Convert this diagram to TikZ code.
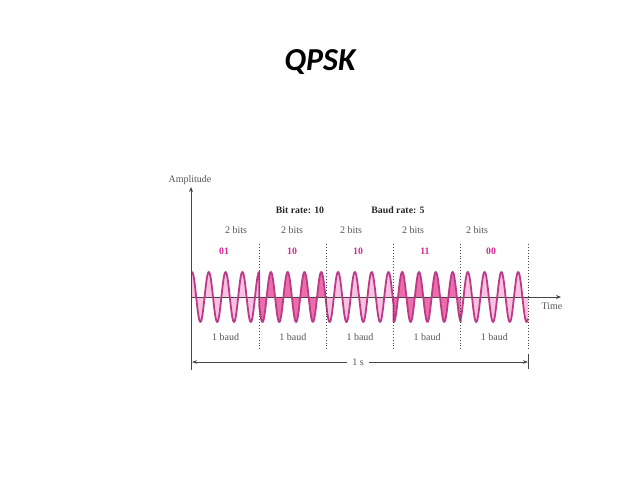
\documentclass[tikz,border=0pt]{standalone}
\usepackage{fontspec}
\setmainfont{Liberation Serif}
\newfontfamily\titlefont{Carlito}
\usetikzlibrary{arrows.meta}
\definecolor{wavec}{RGB}{188,58,135}
\definecolor{lightp}{RGB}{248,194,224}
\definecolor{darkp}{RGB}{236,108,172}
\definecolor{bitc}{RGB}{215,40,150}
\definecolor{axc}{RGB}{70,70,70}
\definecolor{txtc}{RGB}{85,85,85}
\begin{document}
\begin{tikzpicture}[x=1pt,y=-1pt,
  lbl/.style={font=\fontsize{10}{11}\selectfont, text=txtc, inner sep=0pt},
  boldlbl/.style={font=\bfseries\fontsize{9.8}{11}\selectfont, text=black!85, inner sep=0pt},
  bitlbl/.style={font=\bfseries\fontsize{9.8}{11}\selectfont, text=bitc, inner sep=0pt},
  axis/.style={draw=axc, line width=0.9pt},
  divider/.style={draw=axc, dotted, line width=0.9pt},
  wavestroke/.style={draw=wavec, line width=1.8pt, line join=round}]
\useasboundingbox (0,0) rectangle (638,478);
\node[font=\titlefont\bfseries\itshape\fontsize{32}{36}\selectfont] (title) at (320,62) {QPSK};

% axes
\coordinate (ytop) at (191,187);
\coordinate (ybot) at (191,370);
\coordinate (xorg) at (191,297);
\coordinate (xend) at (561,297);
\node[lbl] (amp) at (190,180) {Amplitude};
\node[lbl] (time) at (552,306) {Time};

% rates
\node[boldlbl] (bitrate) at (300,210) {Bit rate: 10};
\node[boldlbl] (baudrate) at (398,210) {Baud rate: 5};

% 2 bits labels
\foreach \n/\x in {a/236,b/292,c/351,d/413,e/477}
  \node[lbl] (bits\n) at (\x,230) {2 bits};

% bit patterns
\foreach \n/\x/\t in {a/224/01,b/292/10,c/358/10,d/425/11,e/491/00}
  \node[bitlbl] (pat\n) at (\x,251) {\t};

% wave fills
\foreach \k/\ph/\fc in {0/0/lightp,1/110/darkp,2/110/lightp,3/175/darkp,4/210/lightp}{
  \fill[\fc] ({192+67.2*\k},297) -- plot[domain=0:67.2,samples=160] ({192+67.2*\k+\x},{297-25*cos(21.428571*\x+\ph)}) -- ({192+67.2*(\k+1)},297) -- cycle;
}

% axes drawn over fills
\draw[axis,-{Stealth[length=5pt,width=4pt]}] (ybot) -- (ytop);
\draw[axis,-{Stealth[length=5pt,width=4pt]}] (xorg) -- (xend);

% wave curve
\draw[wavestroke] (192,272)
  \foreach \k/\ph in {0/0,1/110,2/110,3/175,4/210}{
    -- plot[domain=0:67.2,samples=160] ({192+67.2*\k+\x},{297-25*cos(21.428571*\x+\ph)})
  };

% dividers
\foreach \n/\x in {a/259.2,b/326.4,c/393.6,d/460.8,e/528}{
  \coordinate (dt\n) at (\x,244);
  \coordinate (db\n) at (\x,349);
  \draw[divider] (dt\n) -- (db\n);
}

% 1 baud labels
\foreach \n/\x in {a/225.6,b/292.8,c/360,d/427.2,e/494.4}
  \node[lbl] (baud\n) at (\x,337) {1 baud};

% 1 s dimension
\coordinate (sl) at (192,362);
\coordinate (sr) at (528,362);
\coordinate (tt) at (528,354);
\coordinate (tb) at (528,369);
\draw[axis, line width=0.7pt] (tt) -- (tb);
\node[lbl, fill=white, inner xsep=5pt, inner ysep=1pt] (onesec) at (358,362) {1 s};
\draw[axis, line width=0.7pt, -{Stealth[length=5pt,width=3.5pt]}] (onesec.west) -- (sl);
\draw[axis, line width=0.7pt, -{Stealth[length=5pt,width=3.5pt]}] (onesec.east) -- (sr);
\end{tikzpicture}
\end{document}
